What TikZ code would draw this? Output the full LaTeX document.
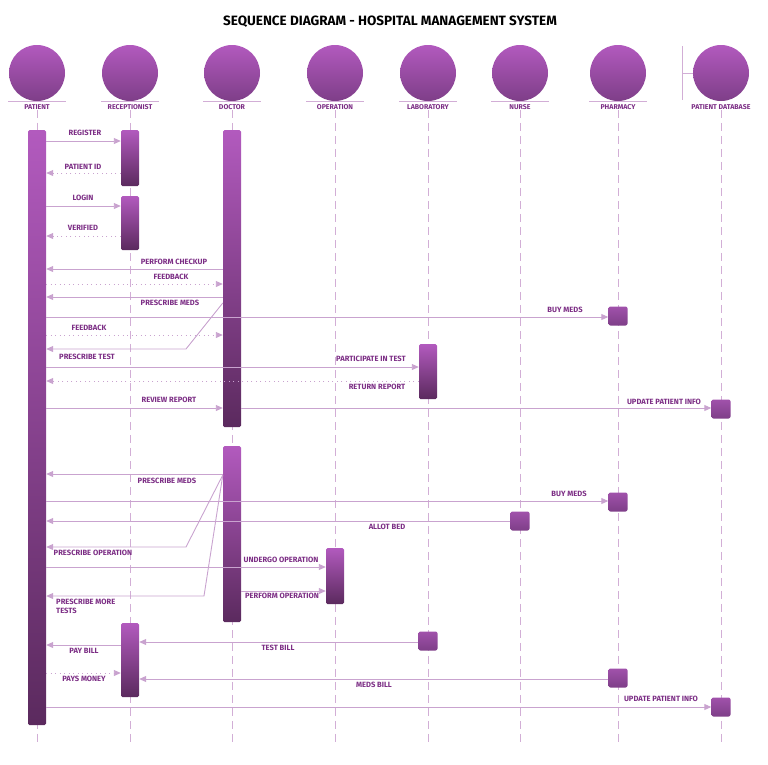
\documentclass[tikz,border=0pt]{standalone}
\usepackage{fontspec}
\setmainfont{Fira Sans}
\usetikzlibrary{arrows.meta}

\definecolor{barTop}{HTML}{B25ABE}
\definecolor{barBot}{HTML}{5B2A5E}
\definecolor{ballBot}{HTML}{7E3E88}
\definecolor{msgLine}{HTML}{C9A3CF}
\definecolor{lifeLine}{HTML}{D2AED6}
\definecolor{msgText}{HTML}{7C2E85}

\tikzset{%
  every actor/.style={
    circle,
    minimum size=56pt,
    inner sep=0pt,
    top color=barTop,
    bottom color=ballBot
  },
  actor name/.style={
    text=msgText,
    inner sep=0pt,
    font=\bfseries\fontsize{7}{8}\selectfont
  },
  lifeline/.style={
    draw=lifeLine,
    line width=1pt,
    dash pattern=on 8pt off 5pt
  },
  underline/.style={
    draw=lifeLine,
    line width=1pt
  },
  bar/.style={
    rectangle,
    rounded corners=1.5pt,
    minimum width=18pt,
    inner sep=0pt,
    top color=barTop,
    bottom color=barBot
  },
  box/.style={
    rectangle,
    rounded corners=2pt,
    minimum size=19pt,
    inner sep=0pt,
    top color=barTop!90!black,
    bottom color=ballBot
  },
  msg/.style={
    draw=msgLine,
    line width=0.9pt,
    ->
  },
  reply/.style={
    msg,
    dash pattern=on 1pt off 3.5pt
  },
  msglabel/.style={
    text=msgText,
    inner sep=0pt,
    font=\bfseries\fontsize{7.6}{9}\selectfont
  },
}

\begin{document}
\begin{tikzpicture}[x=1pt, y=-1pt, >={Triangle[length=7pt,width=6pt]}]

\useasboundingbox (0,0) rectangle (768,764);

\node [font=\bfseries\fontsize{13.5}{15}\selectfont] (title) at (390,22)
  {SEQUENCE DIAGRAM - HOSPITAL MANAGEMENT SYSTEM};

% actors and lifelines
\foreach \n/\x/\l in {pat/37/PATIENT, rec/130/RECEPTIONIST, doc/232/DOCTOR,
    opr/335/OPERATION, lab/428/LABORATORY, nur/520/NURSE, pha/618/PHARMACY,
    pdb/721/PATIENT DATABASE}
{
  \node [every actor] (actor-\n) at (\x,73) {};
  \node [actor name] (name-\n) at (\x,107) {\l};
  \draw [lifeline] (name-\n.south) -- (\x,745);
}

\foreach \n in {pat,rec,doc,opr,lab,nur,pha}
  \draw [underline] ([xshift=-29pt]actor-\n.south) -- ([xshift=29pt]actor-\n.south);

\draw [underline] (actor-pdb.west) -- ++(-10,0) coordinate (edge-pdb);
\draw [underline] (edge-pdb |- 0,46) -- (edge-pdb |- 0,100);

% activation bars
\foreach \n/\x/\t/\b in {pbar/37/130/725, rec1/130/130/186, rec2/130/196/250,
    doc1/232/130/427, doc2/232/446/622, lab1/428/344/399, opr1/335/548/604,
    rec3/130/623/697}
  \node [bar, minimum height={(\b-\t)*1pt}] (\n) at (\x,{(\t+\b)/2}) {};

\foreach \n/\x/\y in {pha1/618/316, pdb1/721/409, pha2/618/502, nur1/520/521,
    lab2/428/641, pha3/618/678, pdb2/721/707}
  \node [box] (\n) at (\x,\y) {};

% messages
\foreach \a/\b/\y/\s in {pbar.east/rec1.west/141/msg, rec1.west/pbar.east/173/reply,
    pbar.east/rec2.west/206/msg, rec2.west/pbar.east/236/reply,
    doc1.west/pbar.east/269/msg, pbar.east/doc1.west/284/reply,
    doc1.west/pbar.east/297/msg, pbar.east/pha1.west/317/msg,
    pbar.east/doc1.west/335/reply, pbar.east/lab1.west/367/msg,
    lab1.west/pbar.east/381/reply, pbar.east/doc1.west/408/msg,
    doc1.east/pdb1.west/408/msg, doc2.west/pbar.east/474/msg,
    pbar.east/pha2.west/501/msg, nur1.west/pbar.east/521/msg,
    pbar.east/opr1.west/567/msg, doc2.east/opr1.west/591/msg,
    lab2.west/rec3.east/642/msg, rec3.west/pbar.east/645/msg,
    pbar.east/rec3.west/673/reply, pha3.west/rec3.east/679/msg,
    pbar.east/pdb2.west/707/msg}
  \draw [\s] (\a |- 0,\y) -- (\b |- 0,\y);

\coordinate (bend-1) at (186,349);
\coordinate (bend-2) at (186,547);
\coordinate (bend-3) at (204,596);
\draw [msg] (doc1.west |- 0,303) -- (bend-1) -- (pbar.east |- bend-1);
\draw [msg] (doc2.west |- 0,475) -- (bend-2) -- (pbar.east |- bend-2);
\draw [msg] (doc2.west |- 0,475) -- (bend-3) -- (pbar.east |- bend-3);

% message labels
\foreach \x/\y/\t [count=\i] in {85/133/REGISTER, 83/167/PATIENT ID, 83/198/LOGIN,
    83/228/VERIFIED, 174/262/PERFORM CHECKUP, 171/277/FEEDBACK,
    170/303/PRESCRIBE MEDS, 565/310/BUY MEDS, 89/328/FEEDBACK,
    87/357/PRESCRIBE TEST, 371/359/PARTICIPATE IN TEST, 377/387/RETURN REPORT,
    169/400/REVIEW REPORT, 664/402/UPDATE PATIENT INFO, 167/481/PRESCRIBE MEDS,
    569/494/BUY MEDS, 387/527/ALLOT BED, 93/553/PRESCRIBE OPERATION,
    281/560/UNDERGO OPERATION, 282/596/PERFORM OPERATION, 278/648/TEST BILL,
    84/651/PAY BILL, 84/679/PAYS MONEY, 374/685/MEDS BILL,
    661/699/UPDATE PATIENT INFO}
  \node [msglabel] (label-\i) at (\x,\y) {\t};

\node [msglabel, align=left, anchor=west] (label-more) at (56,606)
  {PRESCRIBE MORE\\TESTS};

\end{tikzpicture}
\end{document}
